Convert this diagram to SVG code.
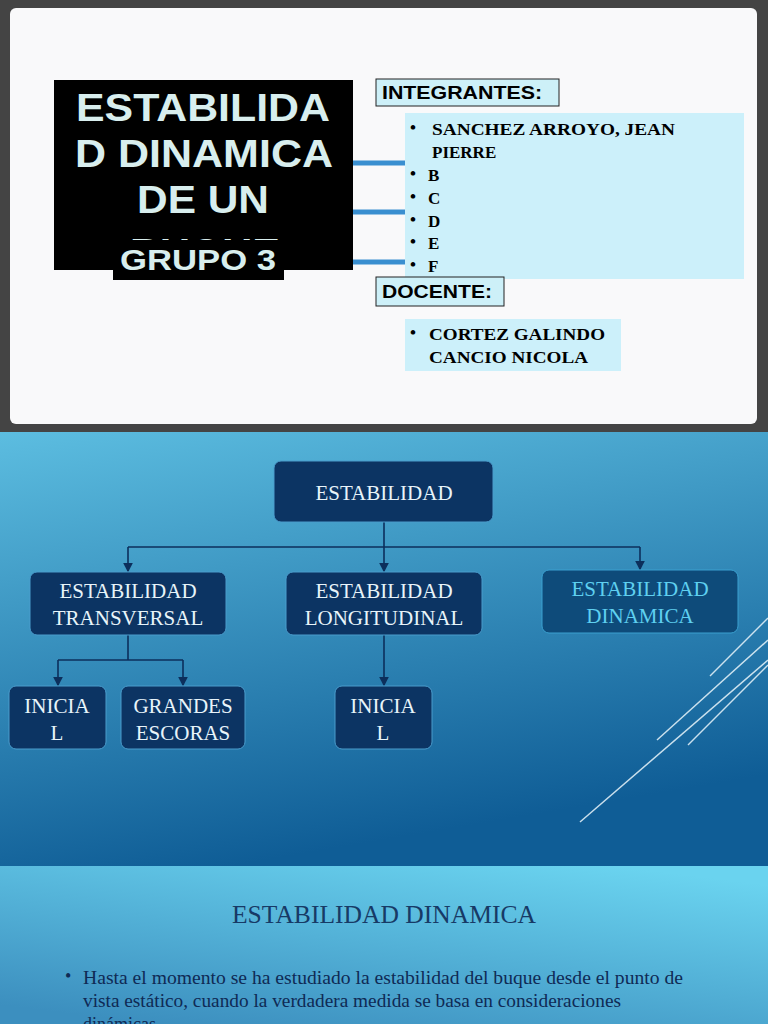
<svg xmlns="http://www.w3.org/2000/svg" width="768" height="1024" viewBox="0 0 768 1024">
<defs>
<linearGradient id="g2" x1="0" y1="0" x2="0.3" y2="1"><stop offset="0" stop-color="#5cbde0"/><stop offset="1" stop-color="#0f5d96"/></linearGradient>
<linearGradient id="g3" x1="0.2" y1="1" x2="0.8" y2="0"><stop offset="0" stop-color="#3c8fbf"/><stop offset="1" stop-color="#6ad3ef"/></linearGradient>
<clipPath id="tc"><rect x="54" y="80" width="299" height="160"/></clipPath>
<marker id="ar" markerWidth="6" markerHeight="6" refX="5" refY="3" orient="auto"><path d="M0,0 L6,3 L0,6 z" fill="#0c2f5c"/></marker>
</defs>
<style>
.bh{font-family:"Liberation Sans",Arial,sans-serif;font-weight:bold;}
.ser{font-family:"Liberation Serif","Times New Roman",serif;}
.nb{fill:#0c3463;stroke:#4a9ccc;stroke-width:1;}
.nt{fill:#e8f4fa;font-size:21px;text-anchor:middle;}
.ln{stroke:#0c2f5c;stroke-width:1.6;fill:none;}
</style>
<rect width="768" height="432" fill="#444"/>
<rect x="10" y="8" width="747" height="416" rx="6" fill="#f9f9fa"/>
<g id="title">
<rect x="54" y="80" width="299" height="190" fill="#000"/>
<g clip-path="url(#tc)" class="bh" fill="#d8eeee" font-size="38">
<text x="76" y="121" textLength="254" lengthAdjust="spacingAndGlyphs">ESTABILIDA</text>
<text x="75" y="167" textLength="258" lengthAdjust="spacingAndGlyphs">D DINAMICA</text>
<text x="137" y="213" textLength="132" lengthAdjust="spacingAndGlyphs">DE UN</text>
<text x="130" y="266" textLength="150" lengthAdjust="spacingAndGlyphs">BUQUE</text>
</g>
<rect x="113" y="240" width="171" height="40" fill="#000"/>
<text x="120" y="270" class="bh" fill="#d8eeee" font-size="29" textLength="156" lengthAdjust="spacingAndGlyphs">GRUPO 3</text>
</g>
<g id="conn1" stroke="#3a8fd0" stroke-width="5">
<line x1="353" y1="163" x2="405" y2="163"/><line x1="353" y1="212" x2="405" y2="212"/><line x1="353" y1="262" x2="405" y2="262"/>
</g>
<g id="integrantes"><rect x="376" y="79" width="183" height="27" fill="#cdf0f8" stroke="#222"/><text x="382" y="99" class="bh" font-size="18" fill="#000" textLength="160" lengthAdjust="spacingAndGlyphs">INTEGRANTES:</text></g>
<g id="lista" class="ser" font-weight="bold" font-size="17" fill="#000">
<rect x="405" y="113" width="339" height="166" fill="#ccf0fa"/>
<text x="410" y="133">•</text><text x="432" y="135" textLength="243" lengthAdjust="spacingAndGlyphs">SANCHEZ ARROYO, JEAN</text><text x="432" y="158">PIERRE</text>
<text x="410" y="179">•</text><text x="428" y="181">B</text>
<text x="410" y="202">•</text><text x="428" y="204">C</text>
<text x="410" y="225">•</text><text x="428" y="227">D</text>
<text x="410" y="247">•</text><text x="428" y="249">E</text>
<text x="410" y="270">•</text><text x="428" y="272">F</text>
</g>
<g id="docente"><rect x="376" y="277" width="128" height="29" fill="#cdf0f8" stroke="#222"/><text x="382" y="298" class="bh" font-size="18" fill="#000" textLength="110" lengthAdjust="spacingAndGlyphs">DOCENTE:</text></g>
<g id="docentes" class="ser" font-weight="bold" font-size="17" fill="#000">
<rect x="405" y="319" width="216" height="52" fill="#ccf0fa"/>
<text x="410" y="338">•</text><text x="429" y="340" textLength="176" lengthAdjust="spacingAndGlyphs">CORTEZ GALINDO</text><text x="429" y="363" textLength="159" lengthAdjust="spacingAndGlyphs">CANCIO NICOLA</text>
</g>
<rect x="0" y="432" width="768" height="434" fill="url(#g2)"/>
<g stroke="#eaf6fb" stroke-width="1.5" opacity="0.85">
<line x1="580" y1="822" x2="768" y2="660"/><line x1="657" y1="740" x2="768" y2="640"/><line x1="688" y1="745" x2="768" y2="665"/><line x1="710" y1="676" x2="768" y2="618"/>
</g>
<g id="connectors" class="ln">
<path d="M384 522 V547 M128 547 H640 M128 547 V571" marker-end="url(#ar)"/>
<path d="M384 547 V571" marker-end="url(#ar)"/>
<path d="M640 547 V569" marker-end="url(#ar)"/>
<path d="M128 635 V660 M58 660 H183 M58 660 V685" marker-end="url(#ar)"/>
<path d="M183 660 V685" marker-end="url(#ar)"/>
<path d="M384 635 V685" marker-end="url(#ar)"/>
</g>
<g id="n-estabilidad"><rect x="274" y="461" width="219" height="61" rx="7" class="nb"/><text x="384" y="500" class="ser nt">ESTABILIDAD</text></g>
<g id="n-trans"><rect x="30" y="572" width="196" height="63" rx="7" class="nb"/><text x="128" y="598" class="ser nt">ESTABILIDAD</text><text x="128" y="625" class="ser nt">TRANSVERSAL</text></g>
<g id="n-long"><rect x="286" y="572" width="196" height="63" rx="7" class="nb"/><text x="384" y="598" class="ser nt">ESTABILIDAD</text><text x="384" y="625" class="ser nt">LONGITUDINAL</text></g>
<g id="n-din"><rect x="542" y="570" width="196" height="63" rx="7" fill="#0e4b7a" stroke="#3aa0d0"/><text x="640" y="596" class="ser nt" fill="#5fd0f0" style="fill:#5fd0f0">ESTABILIDAD</text><text x="640" y="623" class="ser nt" style="fill:#5fd0f0">DINAMICA</text></g>
<g id="n-ini1"><rect x="9" y="686" width="97" height="63" rx="7" class="nb"/><text x="57" y="713" class="ser nt">INICIA</text><text x="57" y="740" class="ser nt">L</text></g>
<g id="n-grandes"><rect x="121" y="686" width="124" height="63" rx="7" class="nb"/><text x="183" y="713" class="ser nt">GRANDES</text><text x="183" y="740" class="ser nt">ESCORAS</text></g>
<g id="n-ini2"><rect x="335" y="686" width="97" height="63" rx="7" class="nb"/><text x="383" y="713" class="ser nt">INICIA</text><text x="383" y="740" class="ser nt">L</text></g>
<rect x="0" y="866" width="768" height="158" fill="url(#g3)"/>
<text x="232" y="923" class="ser" font-size="25" fill="#173a66" textLength="304" lengthAdjust="spacingAndGlyphs">ESTABILIDAD DINAMICA</text>
<g class="ser" font-size="18" fill="#0f2a55">
<text x="65" y="982">•</text>
<text x="83" y="984" textLength="600" lengthAdjust="spacingAndGlyphs">Hasta el momento se ha estudiado la estabilidad del buque desde el punto de</text>
<text x="83" y="1007" textLength="538" lengthAdjust="spacingAndGlyphs">vista estático, cuando la verdadera medida se basa en consideraciones</text>
<text x="83" y="1030">dinámicas.</text>
</g>
</svg>
